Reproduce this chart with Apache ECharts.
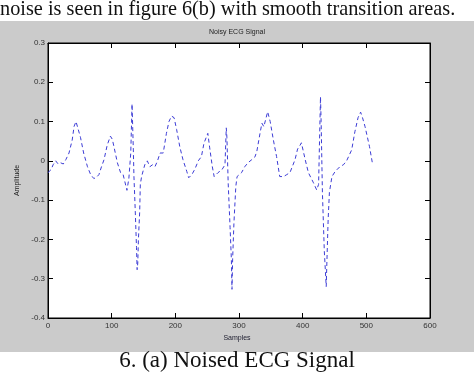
<!DOCTYPE html>
<html>
<head>
<meta charset="utf-8">
<script src="https://cdn.jsdelivr.net/npm/echarts@6/dist/echarts.min.js"></script>
<style>html,body{margin:0;padding:0;background:#fff;}#c{width:474px;height:374px;}</style>
</head>
<body>
<div id="c"></div>
<script>
const samples = [0,5,8,12,16,20,24,28,33,38,41,44,47,51,56,62,67,72,76,80,84,88,93,98,101,104,109,114,118,121,124,127,130,132,133,134,135,137,139,140,141,142,144,145,147,152,156,160,164,168,172,176,181,186,190,194,198,202,207,212,218,221,226,231,236,241,245,251,254,258,261,267,273,278,280,281,283,286,288,289,290,292,295,297,299,304,309,314,320,325,328,333,336,339,345,349,354,359,364,370,375,380,388,392,396,398,404,409,417,422,425,428,429,431,434,437,438,440,442,446,451,459,464,469,477,482,487,491,494,498,505,510];
const amplitude = [-0.03,-0.022,-0.01,0,-0.008,-0.005,-0.008,0.003,0.02,0.053,0.088,0.1,0.095,0.06,0.02,-0.015,-0.035,-0.045,-0.042,-0.035,-0.015,0.003,0.04,0.063,0.055,0.033,-0.005,-0.03,-0.035,-0.035,-0.075,-0.045,0.02,0.145,0.14,0.03,-0.04,-0.125,-0.22,-0.277,-0.26,-0.2,-0.13,-0.06,-0.04,-0.01,0,-0.015,-0.01,-0.015,0,0.02,0.02,0.07,0.1,0.114,0.11,0.08,0.036,0.003,-0.027,-0.043,-0.035,-0.02,0,0.011,0.045,0.07,0.033,-0.014,-0.04,-0.03,-0.023,-0.01,0.084,0.06,-0.056,-0.17,-0.25,-0.327,-0.25,-0.16,-0.065,-0.04,-0.04,-0.03,-0.015,-0.005,0.003,0.01,0.024,0.07,0.096,0.087,0.125,0.1,0.053,0.011,-0.04,-0.04,-0.035,-0.03,0.003,0.03,0.04,0.046,0.003,-0.03,-0.056,-0.074,-0.06,0.163,0.1,-0.08,-0.23,-0.32,-0.26,-0.15,-0.08,-0.04,-0.027,-0.014,-0.01,0,0.028,0.074,0.11,0.124,0.11,0.087,0.036,-0.01];
const xTicks = {min:0, max:600, interval:100};
const yTicks = {min:-0.4, max:0.3, interval:0.1};

const data = samples.map((s,i)=>[s, amplitude[i]]);
const chart = echarts.init(document.getElementById('c'), null, {renderer:'canvas'});
const tickFont = {fontFamily:'Liberation Sans', fontSize:8, color:'#333'};
const fmt = v => String(+(+v).toFixed(1));
const line = {show:true, onZero:false, lineStyle:{color:'#000'}};
const tick = {inside:true, length:5, lineStyle:{color:'#000'}};
chart.setOption({
  animation:false,
  backgroundColor:'#ffffff',
  graphic:[
    {type:'rect', z:-10, shape:{x:0,y:21,width:474,height:331}, style:{fill:'#cbcbcb'}},
    {type:'text', x:0, y:-1, scaleX:0.966, style:{text:'noise is seen in figure 6(b) with smooth transition areas.', font:'21px "Liberation Serif"', fill:'#111'}},
    {type:'text', left:'center', top:349, style:{text:'6. (a) Noised ECG Signal', font:'23px "Liberation Serif"', fill:'#111'}},
    {type:'text', left:'center', top:29, style:{text:'Noisy ECG Signal', font:'7px "Liberation Sans"', fill:'#222'}},
    {type:'text', left:'center', top:335, style:{text:'Samples', font:'7px "Liberation Sans"', fill:'#223'}}
  ],
  grid:{left:48, top:43, right:44, bottom:56, show:true, backgroundColor:'#ffffff', borderColor:'#000', borderWidth:1},
  xAxis:[
    {type:'value', min:xTicks.min, max:xTicks.max, interval:xTicks.interval, position:'bottom',
     axisLine:line, axisTick:tick, splitLine:{show:false}, axisLabel:Object.assign({margin:4, formatter:fmt}, tickFont)},
    {type:'value', min:xTicks.min, max:xTicks.max, interval:xTicks.interval, position:'top',
     axisLine:line, axisTick:tick, splitLine:{show:false}, axisLabel:{show:false}}
  ],
  yAxis:[
    {type:'value', min:yTicks.min, max:yTicks.max, interval:yTicks.interval, position:'left',
     name:'Amplitude', nameLocation:'middle', nameGap:16, nameRotate:90, nameTextStyle:{fontFamily:'Liberation Sans', fontSize:7, color:'#222'},
     axisLine:line, axisTick:tick, splitLine:{show:false}, axisLabel:Object.assign({margin:3, formatter:fmt}, tickFont)},
    {type:'value', min:yTicks.min, max:yTicks.max, interval:yTicks.interval, position:'right',
     axisLine:line, axisTick:tick, splitLine:{show:false}, axisLabel:{show:false}}
  ],
  series:[{
    type:'line', data:data, xAxisIndex:0, yAxisIndex:0, showSymbol:false, symbol:'none',
    lineStyle:{color:'#3d3dd6', width:1, type:[4,3]}
  }]
});
</script>
</body>
</html>
